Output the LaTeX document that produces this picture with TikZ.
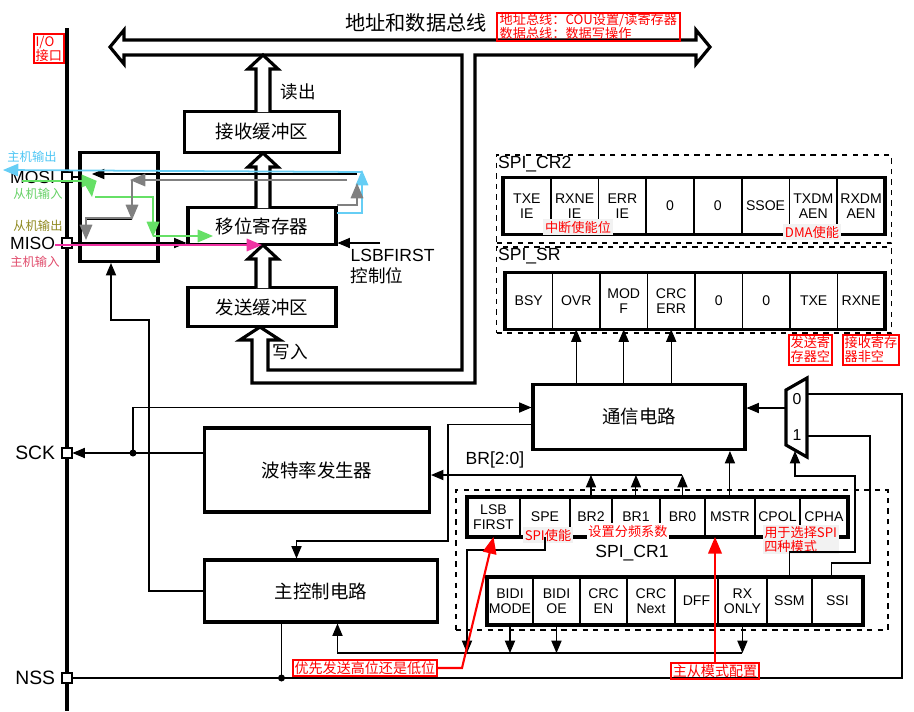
\documentclass[tikz,border=0pt]{standalone}
\usepackage{fontspec}
\setmainfont{Liberation Sans}
\newfontfamily\cjk{Noto Sans CJK SC}
\usetikzlibrary{chains,arrows,positioning}

\begin{document}
\begin{tikzpicture}[x=0.02cm,y=-0.02cm]
    \tikzstyle{every path}=[line width=0.6pt]
    \tikzstyle{blk}=[draw,line width=1.8pt,inner sep=0pt,font=\cjk\fontsize{10.5}{12}\selectfont]
    \tikzstyle{cell}=[draw,line width=1pt,inner sep=0pt,outer sep=0pt,align=center,font=\fontsize{8}{8.5}\selectfont]
    \tikzstyle{pin}=[draw,fill=white,minimum size=0.2cm,inner sep=0pt]
    \tikzstyle{note}=[text=red,font=\cjk\fontsize{7.5}{8}\selectfont,align=left,inner sep=1pt]
    \tikzstyle{rbox}=[note,draw=red,line width=1pt]
    \tikzstyle{frame}=[draw,dashed,line width=0.8pt]
    \tikzstyle{hl}=[line width=1pt]
    \tikzset{>=triangle 45}

    \useasboundingbox (0,0) rectangle (914,711);

    % I/O line and pins
    \draw[line width=1.8pt] (67,28) -- (67,711);
    \node[rbox,anchor=north west] (io) at (33,33) {I/O\\接口};
    \node[pin] (pmosi) at (67,177) {};
    \node[pin] (pmiso) at (67,243) {};
    \node[pin] (psck)  at (67,453) {};
    \node[pin] (pnss)  at (67,678) {};
    \node[anchor=east,font=\fontsize{10}{12}\selectfont] at (pmosi.west) {MOSI};
    \node[anchor=east,font=\fontsize{10}{12}\selectfont] at (pmiso.west) {MISO};
    \node[anchor=east,font=\fontsize{11}{12}\selectfont] at (psck.west) {SCK};
    \node[anchor=east,font=\fontsize{11}{12}\selectfont] at (pnss.west) {NSS};

    % bus with write loop
    \draw[line width=1.8pt,fill=white] (124,40) -- (124,30) -- (110,47) -- (124,64) -- (124,55) -- (462,55)
      -- (462,370) -- (268,370) -- (268,340) -- (280,340) -- (260,327) -- (240,340) -- (252,340)
      -- (252,383) -- (475,383) -- (475,55) -- (696,55) -- (696,64) -- (710,47) -- (696,30) -- (696,40) -- cycle;
    \node[font=\cjk\fontsize{11.5}{13}\selectfont,anchor=east] (bus) at (493,23) {地址和数据总线};
    \node[rbox,anchor=north west,inner sep=0.5pt,minimum width=3.66cm,minimum height=0.56cm] (busnote) at (496,12)
      {地址总线：COU设置/读寄存器\\数据总线：数据写操作};

    % buffers
    \node[blk,minimum width=3.1cm,minimum height=0.82cm] (rxb) at (262,132) {接收缓冲区};
    \node[blk,minimum width=2.96cm,minimum height=0.74cm] (shr) at (262,226) {移位寄存器};
    \node[blk,minimum width=2.96cm,minimum height=0.78cm] (txb) at (262,307) {发送缓冲区};
    \foreach \yb/\yt in {112/55,208/153,288/245}
      \draw[line width=1.8pt,fill=white] (256,\yb) -- (256,{\yt+14}) -- (248,{\yt+14}) -- (263,\yt)
        -- (278,{\yt+14}) -- (270,{\yt+14}) -- (270,\yb);
    \node[font=\cjk\fontsize{10}{12}\selectfont] at (298,92) {读出};
    \node[font=\cjk\fontsize{10}{12}\selectfont] at (290,352) {写入};
    \node[align=left,anchor=north west,font=\fontsize{10}{12}\selectfont,inner sep=0pt] (lsb) at (350,249)
      {LSBFIRST\\{\cjk 控制位}};
    \draw[->] (380,243) -- (shr.south east |- 0,243);

    % pin selector
    \node[blk,minimum width=1.56cm,minimum height=2.18cm] (sel) at (119,207) {};
    \draw (pmosi.east) -- (sel.west |- pmosi);
    \draw[->] (357,174) -- (92,174);
    \draw (95,197) -- (152,197);
    \draw (86,219) -- (132,219);
    \draw[->] (pmiso.east) -- (shr.west |- pmiso);

    % colored paths
    \draw[hl,cyan!60,->] (337,213) -- (362,213) -- (362,170);
    \draw[hl,cyan!60,->] (362,172) -- (3,170);
    \draw[hl,green!80!black!60,->] (22,181) -- (97,181);
    \draw[hl,green!80!black!60,->] (90,181) -- (92,197);
    \draw[hl,green!80!black!60,->] (95,197) -- (153,197) -- (153,237);
    \draw[hl,green!80!black!60,->] (153,236) -- (213,236);
    \draw[hl,gray,->] (347,180) -- (130,180);
    \draw[hl,gray,->] (132,180) -- (132,220);
    \draw[hl,gray,->] (132,218) -- (86,218) -- (86,240);
    \draw[hl,gray,->] (337,205) -- (357,205) -- (357,183);
    \draw[hl,magenta!80,->] (55,245) -- (262,245);
    \node[text=cyan!70,font=\cjk\fontsize{7}{8}\selectfont] at (32,157) {主机输出};
    \node[text=green!70!black!60,font=\cjk\fontsize{7}{8}\selectfont] at (38,194) {从机输入};
    \node[text=olive!80!gray,font=\cjk\fontsize{7}{8}\selectfont] at (38,226) {从机输出};
    \node[text=purple!70!red!70,font=\cjk\fontsize{7}{8}\selectfont] at (35,262) {主机输入};

    % main blocks
    \node[blk,minimum width=4.24cm,minimum height=1.3cm] (tx) at (639,417) {通信电路};
    \node[blk,minimum width=4.5cm,minimum height=1.68cm] (br) at (317,470) {波特率发生器};
    \node[blk,minimum width=4.66cm,minimum height=1.24cm] (mc) at (321,591) {主控制电路};

    % SPI_CR2
    \node[frame,minimum width=7.9cm,minimum height=1.76cm] (cr2f) at (694,199) {};
    \node[anchor=north west,inner sep=1pt,font=\fontsize{10}{12}\selectfont] at (cr2f.north west) {SPI\_CR2};
    \begin{scope}[start chain=cr2 going right,node distance=0mm]
      \coordinate[on chain=cr2] (c20) at (503,206);
      \foreach \t [count=\i] in {{TXE\\IE},{RXNE\\IE},{ERR\\IE},0,0,SSOE,{TXDM\\AEN},{RXDM\\AEN}}
        \node[on chain=cr2,cell,minimum width=0.955cm,minimum height=1.14cm] (c2\i) {\t};
    \end{scope}
    \draw[line width=2pt] (c21.north west) rectangle (c28.south east);
    \node[note,fill=gray!10] at (578,227) {中断使能位};
    \node[note,fill=gray!10] at (812,232) {DMA使能};

    % SPI_SR
    \node[frame,minimum width=7.9cm,minimum height=1.72cm] (srf) at (694,290) {};
    \node[anchor=north west,inner sep=1pt,font=\fontsize{10}{12}\selectfont] at (srf.north west) {SPI\_SR};
    \begin{scope}[start chain=sr going right,node distance=0mm]
      \coordinate[on chain=sr] (s0) at (505,301);
      \foreach \t [count=\i] in {BSY,OVR,{MOD\\F},{CRC\\ERR},0,0,TXE,RXNE}
        \node[on chain=sr,cell,minimum width=0.95cm,minimum height=1.14cm] (s\i) {\t};
    \end{scope}
    \draw[line width=2pt] (s1.north west) rectangle (s8.south east);
    \node[rbox,anchor=north west] at (788,334) {发送寄\\存器空};
    \node[rbox,anchor=north west] at (842,334) {接收寄存\\器非空};
    \foreach \i in {2,3,4}
      \draw[->] (s\i.south |- tx.north) -- (s\i.south);

    % SPI_CR1
    \node[frame,minimum width=8.64cm,minimum height=2.8cm] (cr1f) at (672,560) {};
    \node[font=\fontsize{10}{12}\selectfont] at (632,553) {SPI\_CR1};
    \begin{scope}[start chain=cr1 going right,node distance=0mm]
      \coordinate[on chain=cr1] (a0) at (467,517);
      \foreach \t/\w [count=\i] in {{LSB\\FIRST}/1.06,SPE/1.0,BR2/0.84,BR1/0.96,BR0/0.9,MSTR/1.0,CPOL/0.9,CPHA/0.96}
        \node[on chain=cr1,cell,minimum width=\w cm,minimum height=0.8cm] (a\i) {\t};
    \end{scope}
    \draw[line width=2pt] (a1.north west) rectangle (a8.south east);
    \begin{scope}[start chain=cr1b going right,node distance=0mm]
      \coordinate[on chain=cr1b] (b0) at (487,601);
      \foreach \t/\w [count=\i] in {{BIDI\\MODE}/0.92,{BIDI\\OE}/0.94,{CRC\\EN}/0.94,{CRC\\Next}/0.96,DFF/0.86,{RX\\ONLY}/0.98,SSM/0.9,SSI/1.02}
        \node[on chain=cr1b,cell,minimum width=\w cm,minimum height=0.96cm] (b\i) {\t};
    \end{scope}
    \draw[line width=2pt] (b1.north west) rectangle (b8.south east);
    \node[note,fill=gray!10] at (548,535) {SPI使能};
    \node[note,fill=white] at (628,531) {设置分频系数};
    \node[note,fill=gray!10,anchor=north west] at (762,524) {用于选择SPI\\四种模式};

    % baud rate bits
    \coordinate (brl) at (0,475);
    \foreach \i in {3,4,5}
      \draw[->] (a\i.north) -- (a\i.north |- brl);
    \draw[->] (a5.north |- brl) -- (br.east |- brl);
    \node[font=\fontsize{10}{12}\selectfont] at (495,460) {BR[2:0]};
    \draw[->] (a6.north) -- (a6.north |- tx.south);

    % control bus to master control
    \coordinate (cbus) at (0,653);
    \draw[->] (a2.south) -- ++(0,13) -| (a1.south west |- cbus);
    \foreach \i in {1,2,6}
      \draw[->] (b\i.south) -- (b\i.south |- cbus);
    \draw[->] (b6.south |- cbus) -| ([xshift=0.33cm]mc.south);

    % mux
    \draw[line width=1.8pt] (786,390) -- (807,378) -- (807,457) -- (786,445) -- cycle;
    \coordinate (mux0) at (807,394);
    \coordinate (mux1) at (807,436);
    \coordinate (muxs) at (795,451);
    \coordinate (muxo) at (786,408);
    \node[font=\fontsize{9}{10}\selectfont] at (797,399) {0};
    \node[font=\fontsize{9}{10}\selectfont] at (797,435) {1};
    \draw[->] (muxo) -- (tx.east |- muxo);
    \draw (b8.north) ++(-0.12cm,0) |- (870,563) |- (mux1);
    \draw[->] (b7.north) |- (855,552) -- (855,476) -| (muxs);

    % clock, NSS and control
    \draw[->] (br.west |- psck) -- (psck.east);
    \fill (133,453) circle (3.5);
    \draw[->] (133,453) |- ([yshift=0.19cm]tx.west);
    \draw (pnss.east) -- (902,678) |- (mux0);
    \draw ([xshift=-0.79cm]mc.south) -- ([xshift=-0.79cm]mc.south |- pnss);
    \fill ([xshift=-0.79cm]mc.south |- pnss) circle (3.5);
    \draw[->] ([yshift=-0.15cm]tx.west) -| (448,541) -| ([xshift=-0.49cm]mc.north);
    \draw[->] (mc.west) -| (149,320) -| (sel.south -| 111,0);

    % notes with arrows
    \node[rbox,anchor=west,font=\cjk\fontsize{8}{9}\selectfont] (lsbn) at (292,668) {优先发送高位还是低位};
    \draw[red,line width=1.2pt,->] (lsbn.east) -- (462,668) -- (a1.south);
    \node[rbox,anchor=north,font=\cjk\fontsize{8}{9}\selectfont] (msn) at (715,662) {主从模式配置};
    \draw[red,line width=1.2pt,->] (msn.north) -- (msn.north |- a6.south);
\end{tikzpicture}
\end{document}
